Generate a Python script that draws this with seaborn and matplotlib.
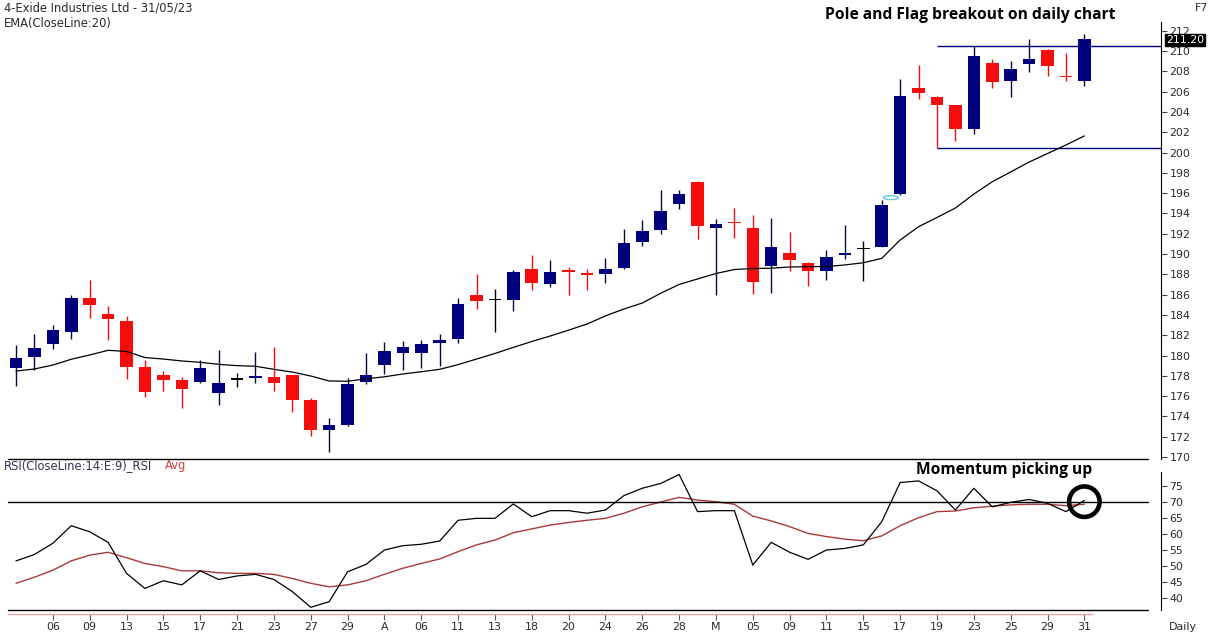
import matplotlib
matplotlib.use("Agg")
import matplotlib.pyplot as plt
import matplotlib.transforms as mtransforms
from matplotlib.patches import Ellipse
from matplotlib.lines import Line2D
import seaborn as sns
import numpy as np
import pandas as pd

# ---------------- data ----------------
opens = [178.8, 179.9, 181.1, 182.3, 185.7, 184.1, 183.4, 178.9, 178.05, 177.6,
         177.4, 176.3, 177.7, 177.8, 177.85, 178.05, 175.6, 172.7, 173.2, 177.4,
         179.1, 180.2, 180.2, 181.2, 181.65, 186.0, 185.5, 185.5, 188.5, 187.0,
         188.45, 188.05, 188.0, 188.65, 191.15, 192.4, 194.95, 197.1, 192.6, 193.15,
         192.6, 188.85, 190.1, 189.1, 188.35, 189.9, 190.55, 190.7, 195.95, 206.4,
         205.5, 204.65, 202.3, 208.8, 207.0, 208.75, 210.1, 207.55, 207.0]
highs = [181.0, 182.1, 183.0, 186.0, 187.4, 184.9, 183.9, 179.6, 178.5, 177.9,
         179.6, 180.5, 178.25, 180.3, 180.8, 178.1, 175.8, 173.8, 177.75, 180.2,
         181.3, 181.4, 181.5, 182.1, 185.7, 188.0, 186.55, 188.4, 189.9, 189.4,
         188.7, 188.5, 189.6, 192.5, 193.35, 196.3, 196.3, 197.2, 193.4, 194.5,
         193.8, 193.55, 192.2, 189.2, 190.4, 192.9, 191.3, 195.3, 207.25, 208.6,
         205.55, 204.7, 210.5, 209.2, 209.0, 211.2, 210.15, 209.8, 211.65]
lows = [177.0, 178.6, 180.6, 181.6, 183.7, 181.5, 177.65, 175.9, 176.5, 174.8,
        177.3, 175.15, 176.9, 177.3, 176.5, 174.4, 172.1, 170.5, 173.1, 177.2,
        178.15, 178.6, 178.8, 179.0, 181.2, 184.6, 182.35, 184.4, 186.5, 186.7,
        186.0, 186.45, 187.1, 188.5, 190.8, 192.0, 194.4, 191.45, 186.0, 191.55,
        186.1, 186.2, 188.3, 186.8, 187.4, 189.5, 187.3, 190.65, 195.8, 205.25,
        200.4, 201.1, 201.85, 206.4, 205.5, 207.9, 207.55, 207.0, 206.6]
closes = [179.8, 180.7, 182.5, 185.7, 185.0, 183.6, 178.9, 176.4, 177.6, 176.7,
          178.8, 177.3, 177.7, 178.0, 177.3, 175.6, 172.7, 173.2, 177.2, 178.05,
          180.4, 180.8, 181.1, 181.5, 185.1, 185.4, 185.5, 188.2, 187.1, 188.2,
          188.2, 188.0, 188.5, 191.1, 192.3, 194.2, 195.9, 192.8, 192.95, 193.1,
          187.2, 190.65, 189.4, 188.35, 189.7, 190.1, 190.55, 194.8, 205.6, 205.9,
          204.7, 202.3, 209.5, 206.9, 208.2, 209.2, 208.55, 207.4, 211.2]
ema20 = [178.47, 178.67, 179.06, 179.63, 180.05, 180.51, 180.4, 179.8, 179.65, 179.46,
         179.33, 179.13, 179.0, 178.94, 178.64, 178.37, 177.98, 177.49, 177.46, 177.7,
         177.9, 178.18, 178.4, 178.64, 179.1, 179.65, 180.2, 180.8, 181.38, 181.92,
         182.5, 183.1, 183.9, 184.58, 185.17, 186.13, 187.0, 187.54, 188.08, 188.47,
         188.57, 188.6, 188.72, 188.75, 188.77, 188.92, 189.14, 189.57, 191.38, 192.69,
         193.6, 194.53, 195.9, 197.12, 198.08, 199.06, 199.9, 200.74, 201.63]
rsi = [51.5, 53.5, 57.0, 62.5, 60.6, 57.3, 47.6, 42.9, 45.3, 44.0,
       48.4, 45.7, 46.8, 47.3, 45.7, 41.9, 37.0, 38.75, 48.1, 50.4,
       54.9, 56.25, 56.7, 57.7, 64.2, 64.8, 64.8, 69.3, 65.3, 67.2,
       67.2, 66.4, 67.4, 71.9, 74.2, 75.7, 78.5, 66.9, 67.2, 67.2,
       50.2, 57.3, 54.2, 52.0, 54.9, 55.4, 56.5, 63.75, 76.0, 76.5,
       73.4, 67.4, 74.2, 68.4, 69.8, 70.7, 69.5, 66.9, 70.4]
rsi_avg = [44.5, 46.4, 48.6, 51.5, 53.3, 54.2, 52.5, 50.7, 49.7, 48.4,
           48.4, 47.8, 47.6, 47.6, 47.3, 46.0, 44.5, 43.4, 44.0, 45.3,
           47.3, 49.2, 50.7, 52.1, 54.4, 56.5, 58.0, 60.3, 61.5, 62.7,
           63.5, 64.2, 64.8, 66.4, 68.4, 69.9, 71.35, 70.5, 70.0, 69.2,
           65.5, 64.0, 62.2, 60.1, 59.1, 58.3, 57.8, 59.3, 62.5, 65.0,
           66.9, 67.1, 68.1, 68.6, 69.0, 69.2, 69.2, 68.75, 69.2]
date_labels = ['06', '09', '13', '15', '17', '21', '23', '27', '29', 'A',
               '06', '11', '13', '18', '20', '24', '26', '28', 'M', '05',
               '09', '11', '15', '17', '19', '23', '25', '29', '31']
price_ticks = list(range(170, 213, 2))
rsi_ticks = [40, 45, 50, 55, 60, 65, 70, 75]
rsi_level = 70
title = "4-Exide Industries Ltd - 31/05/23"
flag_start = 50      # candle where the flag begins
pole_top_idx = 52    # candle defining flag top
gap_idx = 47         # gap between this candle and next

# ---------------- style ----------------
sns.set_theme(style="white")
plt.rcParams['font.family'] = ['DejaVu Sans']
NAVY = '#00007f'
RED = '#f50d0d'
TXT = '#2a2a2a'
FS = 7.9
HFS = 8.3

W, H = 1212, 635
fig = plt.figure(figsize=(W / 100, H / 100), dpi=100)
fig.patch.set_facecolor('white')


def fx(x):
    return x / W


def fy(y):
    return 1 - y / H


n = len(closes)
x = np.arange(n)
xlim = (-16 / 18.42, (1161 - 16) / 18.42)

ax = fig.add_axes([0, fy(459), fx(1161), fy(22) - fy(459)])
ax2 = fig.add_axes([0, fy(614), fx(1161), fy(459) - fy(614)])

# ---------------- candles ----------------
o = np.array(opens); h = np.array(highs); l = np.array(lows); c = np.array(closes)
body_col = np.where(c > o, NAVY, np.where(c < o, RED, 'black'))
wick_col = np.where(c < o, RED, np.where(c > o, '#0a0a3a', 'black'))
ax.vlines(x, l, h, colors=wick_col, lw=1.0, zorder=2)
diff = np.abs(c - o)
hgt = np.maximum(diff, 0.13)
bot = np.minimum(o, c) - (hgt - diff) / 2
ax.bar(x, hgt, bottom=bot, width=0.68, color=body_col, edgecolor=body_col,
       linewidth=0, zorder=3)

sns.lineplot(x=x, y=ema20, ax=ax, color='black', lw=0.9, zorder=4)

# flag lines
ax.hlines([highs[pole_top_idx], lows[flag_start]], flag_start, xlim[1],
          colors=NAVY, lw=1.0, zorder=1)
# gap marker
gx = gap_idx + 0.5
gy = (highs[gap_idx] + lows[gap_idx + 1]) / 2
ax.add_patch(Ellipse((gx, gy), 0.8, 0.38, fill=False, ec='#66c8d8', lw=1.0, zorder=5))

ax.set_xlim(*xlim)
ax.set_ylim(210 - (459 - 51) / 10.15, 210 + 29 / 10.15)
ax.set_xlabel(''); ax.set_ylabel('')
ax.set_xticks([])
ax.yaxis.tick_right()
ax.set_yticks(price_ticks)
ax.tick_params(axis='y', direction='out', length=4, width=0.8, colors='#444',
               labelcolor=TXT, labelsize=FS, pad=2)
for s in ['left', 'top', 'bottom']:
    ax.spines[s].set_visible(False)
ax.spines['right'].set_color('black')
ax.spines['right'].set_linewidth(0.8)

# last price box
trans = mtransforms.blended_transform_factory(ax.transAxes, ax.transData)
ax.text(1.0045, closes[-1] - 0.1, f"{closes[-1]:.2f}", transform=trans, ha='left',
        va='center', fontsize=FS, color='white',
        bbox=dict(boxstyle='square,pad=0.08', fc='black', ec='black'), zorder=6)

# ---------------- RSI ----------------
sns.lineplot(x=x, y=rsi_avg, ax=ax2, color='#a83a3a', lw=1.0)
sns.lineplot(x=x, y=rsi, ax=ax2, color='black', lw=0.9)
ax2.axhline(rsi_level, xmin=8 / 1161, xmax=1148 / 1161, color='black', lw=1.0)
ax2.add_patch(Ellipse((x[-1], rsi_level), 30.5 / 18.42, 30.5 / 3.2, fill=False,
                      ec='black', lw=3.3, zorder=6))
ax2.set_xlim(*xlim)
ax2.set_ylim(70 - (614 - 501.7) / 3.2, 70 + (501.7 - 459) / 3.2)
ax2.set_xlabel(''); ax2.set_ylabel('')
ax2.yaxis.tick_right()
ax2.set_yticks(rsi_ticks)
ax2.tick_params(axis='y', direction='out', length=4, width=0.8, colors='#444',
                labelcolor=TXT, labelsize=FS, pad=2)
ax2.set_xticks(x[2::2])
ax2.set_xticklabels(date_labels)
ax2.tick_params(axis='x', direction='out', length=4, width=0.8, colors='#555',
                labelcolor=TXT, labelsize=FS, pad=2, bottom=True)
for s in ['left', 'top']:
    ax2.spines[s].set_visible(False)
ax2.spines['right'].set_color('black')
ax2.spines['right'].set_linewidth(0.8)
ax2.spines['right'].set_bounds(70 - (610 - 501.7) / 3.2, 70 + (501.7 - 472) / 3.2)
ax2.spines['bottom'].set_color('#e0a8a8')
ax2.spines['bottom'].set_linewidth(1.0)
ax2.spines['bottom'].set_bounds(-0.45, 58.4)

# panel frame lines
for yy in (459, 610):
    fig.add_artist(Line2D([fx(8), fx(1148)], [fy(yy), fy(yy)], color='black', lw=1.0))

# ---------------- texts ----------------
fig.text(fx(4), fy(8), title, ha='left', va='center', fontsize=HFS, color=TXT)
fig.text(fx(4), fy(23), "EMA(CloseLine:20)", ha='left', va='center', fontsize=HFS, color=TXT)
fig.text(fx(1195), fy(8), "F7", ha='left', va='center', fontsize=FS, color=TXT)
fig.text(fx(4), fy(466), "RSI(CloseLine:14:E:9)_RSI", ha='left', va='center',
         fontsize=HFS, color='#333355')
fig.text(fx(165), fy(466), "Avg", ha='left', va='center', fontsize=HFS, color='#d04040')
fig.text(fx(1183), fy(627), "Daily", ha='center', va='center', fontsize=FS, color=TXT)


def fit_text(x0, x1, yc, s):
    t = fig.text(fx((x0 + x1) / 2), fy(yc), s, ha='center', va='center', fontsize=10,
                 fontweight='bold', family=['Open Sans', 'DejaVu Sans'], color='black')
    fig.canvas.draw()
    bb = t.get_window_extent()
    t.set_fontsize(10 * (x1 - x0) / bb.width)
    return t


fit_text(825, 1116, 15, "Pole and Flag breakout on daily chart")
fit_text(916, 1093, 470, "Momentum picking up")

fig.savefig("out.png", dpi=100, facecolor='white')
